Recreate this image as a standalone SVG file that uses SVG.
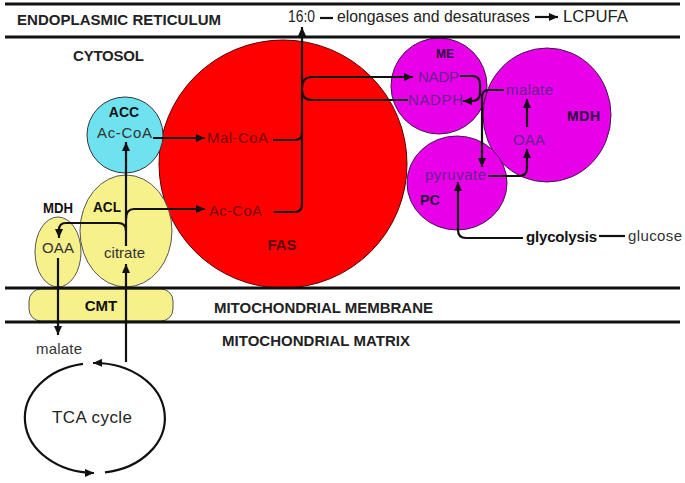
<svg xmlns="http://www.w3.org/2000/svg" width="685" height="483" viewBox="0 0 685 483">
<defs>
<marker id="ah" viewBox="0 0 9 8" refX="9" refY="4" markerWidth="9" markerHeight="8" markerUnits="userSpaceOnUse" orient="auto">
<path d="M0,0 L9,4 L0,8 z" fill="#111"/>
</marker>
<style>
text{font-family:"Liberation Sans",Arial,sans-serif;}
.reg{font-size:15px;fill:#333;}
.b{font-weight:bold;}
.region{font-size:15px;font-weight:bold;fill:#222;}
.fas{fill:#7a0000;}
.mag{fill:#6a2090;}
.magb{fill:#2a0a40;font-weight:bold;}
.mem{stroke:#111;stroke-width:3;fill:none;}
.con{stroke:#111;stroke-width:2.2;fill:none;}
.arr{marker-end:url(#ah);}
.red{fill:#ff0000;stroke:#5a0000;stroke-width:1;}
.cyan{fill:#6ee2ef;stroke:#333;stroke-width:1;}
.yel{fill:#f7f18c;stroke:#555;stroke-width:1;}
.pink{fill:#e800e8;stroke:#40184f;stroke-width:1;}
</style>
</defs>
<rect width="685" height="483" fill="#fff"/>

<g id="FAS">
<circle class="red" cx="283" cy="164" r="124"/>
<text class="reg fas" x="207" y="143" textLength="61">Mal-CoA</text>
<text class="reg fas" x="209" y="216" textLength="53">Ac-CoA</text>
<text class="b" x="282" y="250" font-size="15" fill="#5a0000" text-anchor="middle">FAS</text>
</g>
<g id="ACC">
<circle class="cyan" cx="125" cy="135" r="38"/>
<text class="b" x="124" y="117" font-size="14" fill="#111" text-anchor="middle">ACC</text>
<text class="reg" x="97" y="138" textLength="55">Ac-CoA</text>
</g>
<g id="ACL">
<ellipse class="yel" cx="126" cy="231" rx="46" ry="56"/>
<text class="b" x="93" y="212" font-size="15" fill="#111" textLength="28" lengthAdjust="spacingAndGlyphs">ACL</text>
<text class="reg" x="104" y="258" textLength="41">citrate</text>
</g>
<g id="MDH_left">
<ellipse class="yel" cx="58" cy="252" rx="23" ry="35"/>
<text class="b" x="43" y="213" font-size="14" fill="#111" textLength="30" lengthAdjust="spacingAndGlyphs">MDH</text>
<text class="reg" x="42" y="253" textLength="32">OAA</text>
</g>
<g id="CMT">
<rect class="yel" x="29" y="289" width="144" height="32" rx="12"/>
<text class="b" x="101" y="311" font-size="15" fill="#111" text-anchor="middle">CMT</text>
</g>
<g id="ME">
<circle class="pink" cx="439" cy="86" r="48"/>
<text class="magb" x="445" y="58" font-size="12" text-anchor="middle">ME</text>
<text class="reg mag" x="418" y="82" textLength="41">NADP</text>
<text class="reg mag" x="408" y="105" textLength="55">NADPH</text>
</g>
<g id="MDH_right">
<ellipse class="pink" cx="547" cy="115" rx="64" ry="67"/>
<text class="reg mag" x="506" y="95" textLength="47">malate</text>
<text class="reg mag" x="513" y="145" textLength="32">OAA</text>
<text class="magb" x="567" y="121" font-size="14" textLength="33">MDH</text>
</g>
<g id="PC">
<ellipse class="pink" cx="457" cy="183" rx="50" ry="47"/>
<text class="reg mag" x="425" y="180" textLength="61">pyruvate</text>
<text class="magb" x="420" y="205" font-size="14" textLength="20" lengthAdjust="spacingAndGlyphs">PC</text>
</g>

<g id="membranes">
<line class="mem" x1="5" y1="4" x2="680" y2="4"/>
<line class="mem" x1="5" y1="37" x2="680" y2="37"/>
<line class="mem" x1="5" y1="288" x2="680" y2="288"/>
<line class="mem" x1="5" y1="322" x2="680" y2="322"/>
</g>

<g id="labels">
<text class="region" x="17" y="25" textLength="204">ENDOPLASMIC RETICULUM</text>
<text class="region" x="73" y="61" textLength="71">CYTOSOL</text>
<text class="region" x="214" y="313" textLength="219">MITOCHONDRIAL MEMBRANE</text>
<text class="region" x="222" y="346" textLength="188">MITOCHONDRIAL MATRIX</text>
<text x="288" y="22" font-size="16" fill="#222" textLength="27" lengthAdjust="spacingAndGlyphs">16:0</text>
<text x="337" y="22" font-size="16" fill="#222" textLength="193" lengthAdjust="spacingAndGlyphs">elongases and desaturases</text>
<text x="563" y="22" font-size="16" fill="#222" textLength="65" lengthAdjust="spacingAndGlyphs">LCPUFA</text>
<text class="b" x="526" y="242" font-size="15" fill="#111" textLength="71">glycolysis</text>
<text class="reg" x="628" y="241" textLength="54">glucose</text>
<text class="reg" x="36" y="354" fill="#555" textLength="46">malate</text>
</g>

<g id="TCA_cycle">
<path class="con arr" d="M105,472.4 A70,55 0 0 0 93,363"/>
<path class="con arr" d="M83,363.8 A70,55 0 0 0 94,473"/>
<text x="92" y="423" font-size="17" fill="#222" text-anchor="middle" textLength="80">TCA cycle</text>
</g>

<g id="connectors">
<line class="con" x1="320" y1="18" x2="333" y2="18" stroke-width="2.5"/>
<line class="con arr" x1="535" y1="17" x2="558" y2="17"/>
<line class="con arr" x1="153" y1="138" x2="205" y2="138"/>
<line class="con arr" x1="126" y1="246" x2="126" y2="142"/>
<path class="con arr" d="M126,219 Q126,209 134,209 L205,209"/>
<path class="con arr" d="M126,231 Q126,223 118,223 L66,223 Q59,223 59,230 L59,238"/>
<line class="con arr" x1="58" y1="258" x2="58" y2="335"/>
<line class="con arr" x1="126" y1="362" x2="126" y2="264"/>
<path class="con" d="M273,140 L295,140 Q302,140 302,133"/>
<path class="con arr" d="M274,212 L295,212 Q302,212 302,204 L302,27"/>
<path class="con arr" d="M302,88 Q302,77 312,77 L413,77"/>
<path class="con" d="M302,90 Q302,100 312,100 L408,100"/>
<path class="con arr" d="M460,76 L472,76 Q480,76 480,84 L480,93 Q480,101 472,101 L463,101"/>
<path class="con arr" d="M504,90 L489,90 Q482,90 482,97 L482,167"/>
<line class="con arr" x1="527" y1="127" x2="527" y2="99"/>
<path class="con arr" d="M488,176 L519,176 Q527,176 527,168 L527,149"/>
<path class="con arr" d="M523,238 L466,238 Q458,238 458,230 L458,182"/>
<line class="con" x1="599" y1="236" x2="625" y2="236"/>
</g>
</svg>
